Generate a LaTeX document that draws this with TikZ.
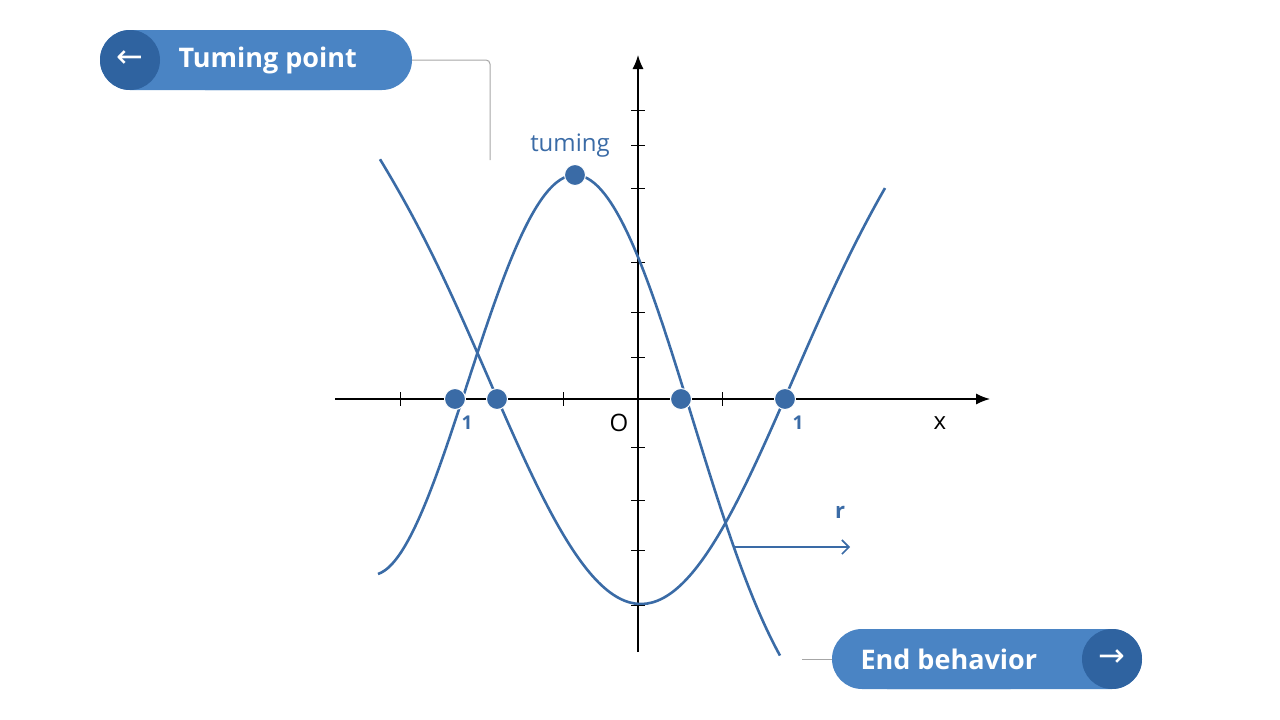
\documentclass[tikz,border=0pt]{standalone}
\usepackage{fontspec}
\setmainfont{Open Sans}
\newfontfamily\djv{DejaVu Sans}
\usetikzlibrary{arrows.meta}
\definecolor{cv}{HTML}{3A6BA6}
\definecolor{bx}{HTML}{4A84C4}
\definecolor{bxd}{HTML}{2F63A0}
\tikzset{curve/.style={cv,line width=2.6pt},
dot/.style={circle,fill=cv,draw=white,line width=1pt,inner sep=0pt,minimum size=21pt},
tick/.style={black,line width=1pt},
pill/.style={rounded corners=30pt,fill=bx,minimum height=60pt,text=white,font=\bfseries\fontsize{27}{29}\selectfont},
arr/.style={text=white,font=\djv\fontsize{32}{32}\selectfont}}
\begin{document}
\begin{tikzpicture}[x=1pt,y=-1pt]
\useasboundingbox (0,0) rectangle (1280,720);
% axes
\draw[line width=1.3pt,-{Latex[length=14pt,width=11pt]}] (335,399) -- (990,399);
\draw[line width=1.3pt,-{Latex[length=14pt,width=11pt]}] (638,652) -- (638,55);
\foreach \t in {400,563,722} \draw[tick] (\t,392) -- (\t,406);
\foreach \t in {110,145,188,262,312,357,447,500,550,605} \draw[tick] (631,\t) -- (645,\t);
% curves
\draw[curve,domain=380:885,samples=120,smooth] plot (\x,{399+205*cos((\x-641)/288*180)-36*(((\x-641)/288*180/158)^2)^3});
\draw[curve,domain=378:780,samples=120,smooth] plot (\x,{399-224*cos((\x-575)/112*90)+35*((\x-575)/112*90/160)*(((\x-575)/112*90/160)^2)^2});
% dots
\node[dot] (d1) at (455,399) {};
\node[dot] (d2) at (497,399) {};
\node[dot] (d3) at (681,399) {};
\node[dot] (d4) at (785,399) {};
\node[dot] (d5) at (575,175) {};
% labels
\node[text=cv,font=\fontsize{24}{26}\selectfont] (lt) at (570,146) {tuming};
\node[font=\fontsize{24}{26}\selectfont] (lo) at (619,423) {O};
\node[font=\fontsize{24}{26}\selectfont] (lx) at (940,423) {x};
\node[text=cv,font=\bfseries\fontsize{19}{20}\selectfont] (l1) at (467,423) {1};
\node[text=cv,font=\bfseries\fontsize{19}{20}\selectfont] (l2) at (798,423) {1};
\node[text=cv,font=\bfseries\fontsize{22}{24}\selectfont] (lr) at (840,512) {r};
\coordinate (ra) at (735,547); \coordinate (rb) at (850,547);
\draw[cv,line width=1.6pt,-{Straight Barb[length=7pt]}] (ra) -- (rb);
% boxes
\node[pill,minimum width=312pt] (tp) at (256,60) {};
\fill[bxd] (130,60) circle (30pt);
\node[arr] (tpa) at (130,59) {←};
\node[pill,anchor=west] (tpt) at (175,60) {Tuming point};
\node[pill,minimum width=310pt] (eb) at (987,659) {};
\fill[bxd] (1112,659) circle (30pt);
\node[arr] (eba) at (1112,658) {→};
\node[pill,anchor=west] (ebt) at (857,659) {End behavior};
% connectors
\coordinate (c1) at (490,160);
\draw[gray!70,line width=1pt,rounded corners=4pt] (tp.east) -- (490,60) -- (c1);
\coordinate (c2) at (802,659);
\draw[gray!70,line width=1pt] (c2) -- (eb.west);
\end{tikzpicture}
\end{document}
